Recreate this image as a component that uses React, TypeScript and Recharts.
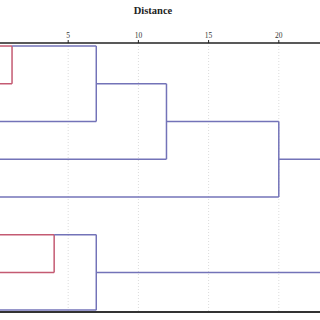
import React from "react";
import { LineChart, Line, XAxis, YAxis, CartesianGrid } from "recharts";

// leaves listed top to bottom (row 1..8)
const leafRows = [1, 2, 3, 4, 5, 6, 7, 8];
const distanceTicks = [0, 5, 10, 15, 20];

const PURPLE = "#7373b8";
const RED = "#c45a72";

// each merge: two branches (row + where that branch starts), height, row the new branch leaves from
const mergeUpperRow = [1, 1, 2, 3, 6, 6, 4];
const mergeUpperFrom = [0, 1, 7, 12, 0, 4, 20];
const mergeLowerRow = [2, 3, 4, 5, 7, 8, 7];
const mergeLowerFrom = [0, 0, 0, 0, 0, 0, 7];
const mergeHeight = [1, 7, 12, 20, 4, 7, 25];
const mergeColor = [RED, PURPLE, PURPLE, PURPLE, RED, PURPLE, PURPLE];

type Seg = { key: string; color: string; pts: { d: number; r: number }[] };

const segments: Seg[] = [];
mergeHeight.forEach((h, i) => {
  const c = mergeColor[i];
  segments.push({ key: `u${i}`, color: c, pts: [{ d: mergeUpperFrom[i], r: mergeUpperRow[i] }, { d: h, r: mergeUpperRow[i] }] });
  segments.push({ key: `l${i}`, color: c, pts: [{ d: mergeLowerFrom[i], r: mergeLowerRow[i] }, { d: h, r: mergeLowerRow[i] }] });
  segments.push({ key: `v${i}`, color: c, pts: [{ d: h, r: mergeUpperRow[i] }, { d: h, r: mergeLowerRow[i] }] });
});

const Title = ({ viewBox }: any) => (
  <text
    x={viewBox.x + 155}
    y={14}
    textAnchor="middle"
    fontFamily="'Liberation Serif', 'DejaVu Serif', serif"
    fontWeight="bold"
    fontSize={10.5}
    fill="#222"
  >
    Distance
  </text>
);

const App = () => {
  return (
    <div style={{ position: "fixed", left: 0, top: 0, width: 320, height: 320, overflow: "hidden", background: "#fff" }}>
      <div style={{ position: "absolute", left: -2, top: 0 }}>
        <LineChart width={351} height={320} margin={{ top: 0, right: 0, bottom: 0, left: 0 }}>
          <CartesianGrid vertical horizontal={false} stroke="#dcdcdc" strokeDasharray="1 2" xAxisId="top" />
          <XAxis
            xAxisId="top"
            orientation="top"
            type="number"
            dataKey="d"
            domain={[0, 25]}
            ticks={distanceTicks}
            height={43}
            tickSize={3}
            tick={{ fontSize: 7.5, fill: "#333", fontFamily: "'Liberation Serif', serif" }}
            axisLine={{ stroke: "#222", strokeWidth: 1.5 }}
            tickLine={{ stroke: "#222" }}
            label={{ content: Title }}
            allowDataOverflow
          />
          <XAxis
            xAxisId="bottom"
            orientation="bottom"
            type="number"
            dataKey="d"
            domain={[0, 25]}
            ticks={distanceTicks}
            height={8}
            tick={false}
            tickLine={false}
            axisLine={{ stroke: "#333", strokeWidth: 2 }}
            allowDataOverflow
          />
          <YAxis type="number" dataKey="r" domain={[0.92, 8.05]} ticks={leafRows} reversed hide allowDataOverflow />
          {segments.map((s) => (
            <Line
              key={s.key}
              xAxisId="top"
              data={s.pts}
              dataKey="r"
              type="linear"
              stroke={s.color}
              strokeWidth={1.5}
              dot={false}
              activeDot={false}
              isAnimationActive={false}
            />
          ))}
        </LineChart>
      </div>
    </div>
  );
};

export default App;
